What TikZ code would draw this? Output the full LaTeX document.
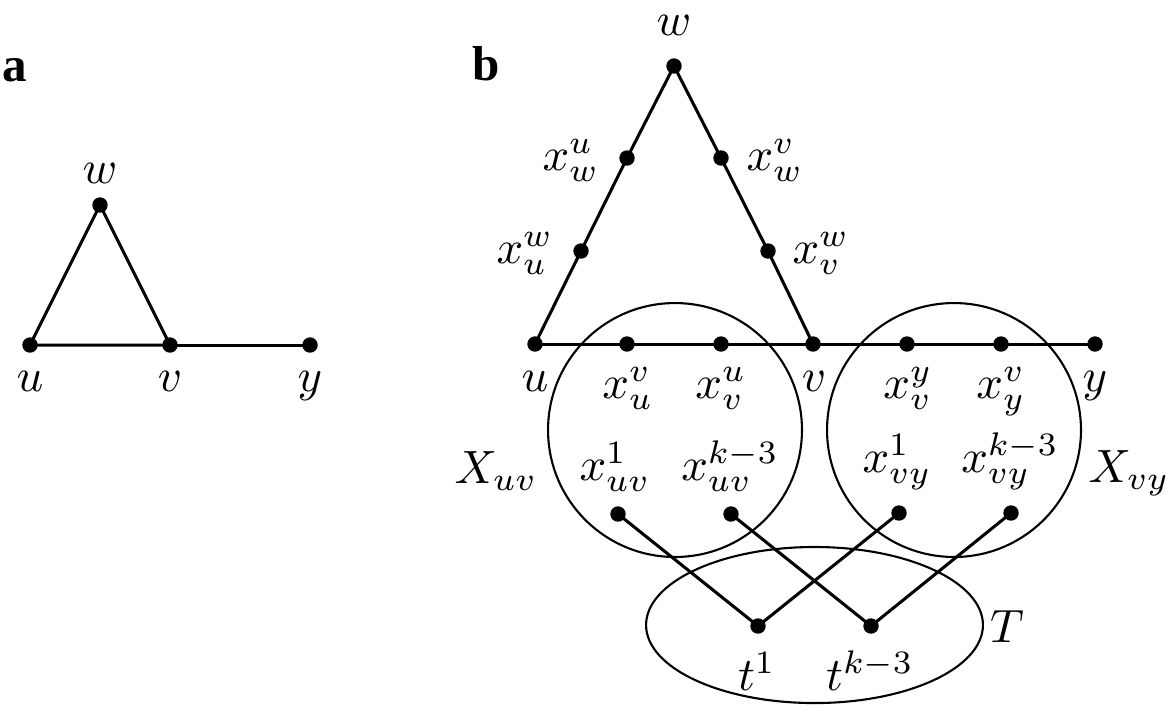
\documentclass[tikz,border=0pt]{standalone}
\usepackage{fontspec}
\newfontfamily\panelfont{Liberation Serif}
\usetikzlibrary{shapes.geometric}
\begin{document}
\begin{tikzpicture}[x=0.00752cm,y=-0.00752cm,
  vtx/.style={circle,fill=black,inner sep=0pt,minimum size=3.3pt},
  edge/.style={line width=0.65pt},
  grp/.style={draw,line width=0.45pt,inner sep=0pt},
  lbl/.style={anchor=base,inner sep=0pt},
  panel/.style={anchor=base west,inner sep=0pt,font=\panelfont\bfseries\fontsize{10.5}{12}\selectfont}]
\useasboundingbox (0,0) rectangle (1169,707);

% ---------- panel a ----------
\node[panel] (la) at (2,81) {a};
\node[vtx] (aw) at (100,205) {};
\node[vtx] (au) at (30,345) {};
\node[vtx] (av) at (170,345) {};
\node[vtx] (ay) at (310,345) {};
\draw[edge] (au.center) -- (aw.center) -- (av.center) -- (au.center);
\draw[edge] (av.center) -- (ay.center);
\node[lbl] (aw-l) at (100,183) {$w$};
\node[lbl] (au-l) at (30,391) {$u$};
\node[lbl] (av-l) at (170,391) {$v$};
\node[lbl] (ay-l) at (310,391) {$y$};

% ---------- panel b ----------
\node[panel] (lb) at (472,80) {b};
\node[grp,circle,minimum size=54.35pt] (Xuv) at (675,430) {};
\node[grp,circle,minimum size=54.35pt] (Xvy) at (954,430) {};
\node[grp,ellipse,minimum width=72.1pt,minimum height=33.4pt] (T) at (814.5,625) {};

\node[vtx] (bw) at (674,66) {};
\node[vtx] (bxwu) at (627,158) {};
\node[vtx] (bxwv) at (721,158) {};
\node[vtx] (bxuw) at (581,251) {};
\node[vtx] (bxvw) at (768,251) {};
\node[vtx] (bu) at (535,344) {};
\node[vtx] (bxuv) at (627,344) {};
\node[vtx] (bxvu) at (721,344) {};
\node[vtx] (bv) at (813,344) {};
\node[vtx] (bxvy) at (907,344) {};
\node[vtx] (bxyv) at (1001,344) {};
\node[vtx] (by) at (1095,344) {};
\node[vtx] (x1uv) at (618,514) {};
\node[vtx] (xkuv) at (731,514) {};
\node[vtx] (x1vy) at (899,513) {};
\node[vtx] (xkvy) at (1011,513) {};
\node[vtx] (t1) at (758,626) {};
\node[vtx] (tk) at (871,626) {};

\draw[edge] (bu.center) -- (bxuw.center) -- (bxwu.center) -- (bw.center)
  -- (bxwv.center) -- (bxvw.center) -- (bv.center);
\draw[edge] (bu.center) -- (bxuv.center) -- (bxvu.center) -- (bv.center)
  -- (bxvy.center) -- (bxyv.center) -- (by.center);
\draw[edge] (x1uv.center) -- (t1.center);
\draw[edge] (xkuv.center) -- (tk.center);
\draw[edge] (x1vy.center) -- (t1.center);
\draw[edge] (xkvy.center) -- (tk.center);

\node[lbl] (bw-l) at (674,35) {$w$};
\node[lbl] (bxwu-l) at (571,170) {$x_w^u$};
\node[lbl] (bxwv-l) at (775,170) {$x_w^v$};
\node[lbl] (bxuw-l) at (525,263) {$x_u^w$};
\node[lbl] (bxvw-l) at (821,263) {$x_v^w$};
\node[lbl] (bu-l) at (535,391) {$u$};
\node[lbl] (bxuv-l) at (628,398) {$x_u^v$};
\node[lbl] (bxvu-l) at (721,398) {$x_v^u$};
\node[lbl] (bv-l) at (814,391) {$v$};
\node[lbl] (bxvy-l) at (908,398) {$x_v^y$};
\node[lbl] (bxyv-l) at (1001,398) {$x_y^v$};
\node[lbl] (by-l) at (1095,391) {$y$};
\node[lbl] (x1uv-l) at (615,480) {$x_{uv}^1$};
\node[lbl] (xkuv-l) at (730,480) {$x_{uv}^{k-3}$};
\node[lbl] (x1vy-l) at (897,472) {$x_{vy}^1$};
\node[lbl] (xkvy-l) at (1010,472) {$x_{vy}^{k-3}$};
\node[lbl] (Xuv-l) at (496,483) {$X_{uv}$};
\node[lbl] (Xvy-l) at (1129,482) {$X_{vy}$};
\node[lbl] (t1-l) at (757,690) {$t^1$};
\node[lbl] (tk-l) at (870,690) {$t^{k-3}$};
\node[lbl] (T-l) at (1007,642) {$T$};
\end{tikzpicture}
\end{document}
